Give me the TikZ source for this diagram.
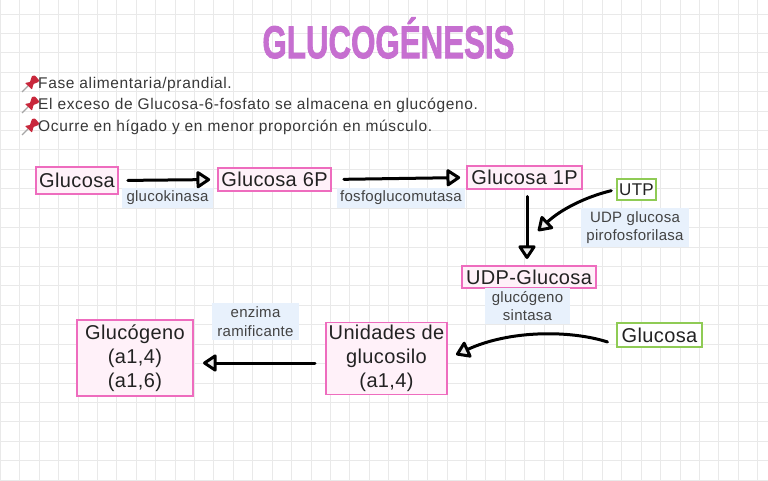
\documentclass[tikz,border=0pt]{standalone}
\usepackage{fontspec}
\setmainfont[LetterSpace=1.8]{Liberation Sans}
\newfontfamily\titlefont[FakeBold=2]{Liberation Sans}
\newfontfamily\notefont[LetterSpace=4.1]{Liberation Sans}
\usetikzlibrary{arrows.meta,positioning}
\definecolor{pinkb}{HTML}{EE6CBE}
\definecolor{pinkf}{HTML}{FFF1F9}
\definecolor{greenb}{HTML}{8FCB55}
\definecolor{labelf}{HTML}{E8F1FC}
\definecolor{gridc}{HTML}{E9E9E9}
\definecolor{inkc}{HTML}{222222}
\definecolor{titlec}{HTML}{C66FD0}
\definecolor{pinred}{HTML}{C8283C}
\tikzset{
 x=1pt,y=-1pt,
 box/.style={draw=pinkb,fill=pinkf,line width=1.7pt,text=inkc,align=center,inner sep=0pt,font=\fontsize{20}{24}\selectfont},
 gbox/.style={draw=greenb,fill=white,line width=1.7pt,text=inkc,align=center,inner sep=0pt,font=\fontsize{20}{24}\selectfont},
 enz/.style={fill=labelf,text=inkc!85,align=center,inner sep=0pt,font=\fontsize{15}{18.5}\selectfont},
 note/.style={anchor=west,inner sep=0pt,text=inkc!90,font=\notefont\fontsize{15.5}{18}\selectfont},
 arr/.style={line width=3pt,line cap=round,black,-{Triangle[length=15pt,width=19pt,fill=gray!15,line width=3pt,round]}},
 pinhead/.pic={
   \draw[gray!70,line width=1.1pt] (0,0) -- (6,-6);
   \fill[pinred,rounded corners=0.6pt] (3,-9) -- (8,-10) -- (10,-16) -- (13,-16.5) -- (17,-12) -- (16.5,-10) -- (11.5,-8) -- (10,-2.5) -- cycle;
 }
}
\begin{document}
\begin{tikzpicture}
\useasboundingbox (0,0) rectangle (768,481);
\fill[white] (0,0) rectangle (768,481);
\foreach \i in {0,...,39} \draw[gridc,line width=0.9pt] ({0.3+19.42*\i},0) -- ({0.3+19.42*\i},481);
\foreach \j in {0,...,24} \draw[gridc,line width=0.9pt] (0,{14+19.42*\j}) -- (768,{14+19.42*\j});

\node[inner sep=0pt,text=titlec] (title) at (388.5,38) {\scalebox{0.68}[1]{\titlefont\bfseries\fontsize{46}{46}\selectfont GLUCOGÉNESIS}};

\pic at (22,92) {pinhead};
\pic at (22,113) {pinhead};
\pic at (22,135) {pinhead};
\node[note] (n1) at (38,84) {Fase alimentaria/prandial.};
\node[note] (n2) at (38,105) {El exceso de Glucosa-6-fosfato se almacena en glucógeno.};
\node[note] (n3) at (38,127) {Ocurre en hígado y en menor proporción en músculo.};

\node[box,minimum width=82pt,minimum height=27pt] (g) at (77,180.5) {Glucosa};
\node[box,minimum width=113pt,minimum height=23pt] (g6) at (274.5,179.5) {Glucosa 6P};
\node[box,minimum width=115pt,minimum height=23pt] (g1) at (524.5,177.5) {Glucosa 1P};
\node[gbox,minimum width=39pt,minimum height=21pt,font=\fontsize{17}{20}\selectfont] (utp) at (636.5,189.5) {UTP};
\node[box,minimum width=134pt,minimum height=22pt] (udp) at (529,277) {UDP-Glucosa};
\node[gbox,minimum width=85pt,minimum height=24pt] (g2) at (659.5,335) {Glucosa};
\node[box,minimum width=121pt,minimum height=72pt] (uni) at (386.5,358.5) {Unidades de\\glucosilo\\(a1,4)};
\node[box,minimum width=116pt,minimum height=76pt] (gluc) at (135,358) {Glucógeno\\(a1,4)\\(a1,6)};

\node[enz,minimum width=91pt,minimum height=20pt] (e1) at (167.5,198) {glucokinasa};
\node[enz,minimum width=128pt,minimum height=20pt] (e2) at (401,198) {fosfoglucomutasa};
\node[enz,minimum width=108pt,minimum height=39pt] (e3) at (635,227.5) {UDP glucosa\\pirofosforilasa};
\node[enz,minimum width=85pt,minimum height=36pt] (e4) at (527.5,306) {glucógeno\\sintasa};
\node[enz,minimum width=87pt,minimum height=37pt] (e5) at (255.5,321.5) {enzima\\ramificante};

\coordinate (utpend) at (538,231);
\coordinate (g1out) at (527,188.5);
\coordinate (udpin) at (527,266);
\coordinate (unoo) at (326,363);
\coordinate (gluin) at (193,363);
\coordinate (g2out) at (617,345);
\draw[arr,shorten <=9pt,shorten >=7pt] (g.east) -- (g6.west);
\draw[arr,shorten <=12pt,shorten >=6pt] (g6.east) -- (g1.west);
\draw[arr,shorten <=8pt,shorten >=7pt] (g1out) -- (udpin);
\draw[arr,shorten <=5pt] (utp.west) .. controls (585,197) and (560,210) .. (utpend);
\draw[arr,shorten <=10pt,shorten >=9pt] (g2out) .. controls (570,330) and (510,330) .. (uni.east);
\draw[arr,shorten <=11pt,shorten >=10pt] (unoo) -- (gluin);
\end{tikzpicture}
\end{document}
